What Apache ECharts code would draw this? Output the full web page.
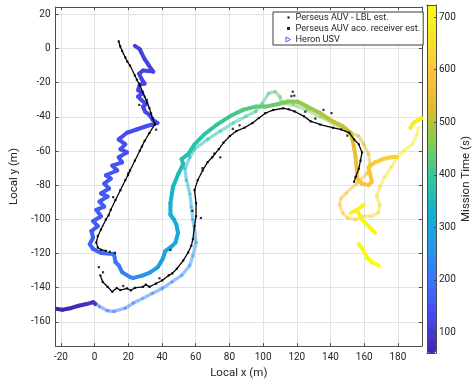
<!DOCTYPE html>
<html><head><meta charset="utf-8">
<script src="https://cdn.jsdelivr.net/npm/echarts@6/dist/echarts.min.js"></script>
<style>html,body{margin:0;padding:0;background:#fff}#c{width:474px;height:384px}</style>
</head><body><div id="c"></div>
<script>
// ---- tick labels ----
const xTicks = [-20, 0, 20, 40, 60, 80, 100, 120, 140, 160, 180];
const yTicks = [-160, -140, -120, -100, -80, -60, -40, -20, 0, 20];
const timeTicks = [100, 200, 300, 400, 500, 600, 700];
const timeMin = 61, timeMax = 723;

// ---- Perseus AUV - LBL est. (x, y) ----
const lblTrack1 = [[14.3,4.2],[15.2,1.2],[16.3,-1.4],[18.2,-5.2],[19.4,-7.6],[21,-10],[23.9,-15.8],[25.1,-18.3],[26.8,-21.5],[28.4,-25.2],[29.7,-28.2],[31.2,-31.6],[32.5,-34.9],[34.4,-40.7],[35.8,-44.2],[32.5,-49.5],[29.7,-54.1],[28.1,-57.3],[26.8,-59.9],[23.9,-65.6],[21,-71.4],[19.8,-74.1],[18.2,-77.1],[15.3,-82.9],[12.4,-88.6],[9.6,-94.4],[8.3,-97.6],[6.7,-100.1],[3.8,-105.9],[1.9,-109.8],[1,-113.6],[1.9,-116.5],[3.8,-117.8],[6.7,-118.4]];
const lblTrack2 = [[3.4,-132.8],[4.8,-136.6],[7.7,-139.5],[10.5,-142.4],[13.1,-140.2],[15.3,-141.4],[19.2,-140.4],[21.5,-141.6],[23.9,-140.1],[28.7,-139.5],[30.4,-138.2],[32.5,-139.5],[36.4,-137.6],[40.2,-135.7],[44,-132.8],[46.1,-131.6],[48.8,-128.9],[52.6,-124.1],[55.5,-119.4],[57.4,-115.5],[58.3,-111.7],[59.3,-104],[60.2,-98.2],[60.2,-90.6],[59.3,-82.9],[61.2,-77.1],[64.1,-71.4],[67,-66.6],[69.8,-63.7],[73.7,-58.9],[76.5,-55.1],[80.3,-51.2],[84.2,-48.3],[88.9,-46.4],[93.7,-43.6],[97.5,-40.7],[101.4,-37.8],[106,-36],[112,-35],[115.2,-35.6],[118.6,-36.8],[124.3,-39.7],[128.2,-42.6],[133.9,-44.5],[141.5,-46.4],[146.3,-47.4],[151.1,-49.3],[154,-53.2],[156.8,-56.1],[158.7,-60.8],[157.8,-65.6],[156.8,-70.4],[154.9,-75.2],[154,-78]];
const lblStray = [[117.6,-25.3],[118.5,-27.6],[116.8,-27.9],[135.8,-35.9],[140.6,-37.8],[9,-119],[12,-119.6],[63.1,-99.2],[74.6,-63.7],[64,-70],[45,-118],[26.5,-33],[31,-30],[58,-95],[82,-47],[125,-37],[71,-61.5],[86,-45],[38.5,-134.5],[17,-139],[5,-131],[2.5,-128],[36.5,-47.5],[33.5,-38],[11,-87],[20,-73],[150,-51],[131,-41]];

// ---- Perseus AUV aco. receiver est. (x, y, mission time) ----
const rxTrack1 = [[-23,-152.3,62],[-19.1,-152.9,68],[-14.3,-152,75],[-9.5,-150.6,82],[-4.8,-149.6,88],[-0.9,-148.5,94],[0.4,-149.6,97]];
const rxTrack2 = [[23.9,1.5,112],[26.8,-0.4,113],[27.7,-2.3,114],[29.7,-6.2,116],[31.6,-9,117],[33.5,-11.9,118],[34.8,-13.5,119],[28.7,-12.9,121],[26.4,-14.8,122],[27.8,-17.7,123],[29.7,-20.5,124],[26.8,-21.1,125],[25.8,-24.4,126],[28.3,-26.3,127],[25.8,-28.2,128],[27.8,-30.2,129],[30.6,-32.6,130],[28.7,-34,131],[30,-37,132],[32.5,-38.8,133],[34.4,-41.7,134],[37.3,-43.6,135],[30.6,-45.5,137],[24.9,-47.4,139],[19.2,-49.3,141],[14.3,-53.2,143],[18.2,-56.1,144],[15.3,-58.9,145],[19.2,-60.8,146],[14.3,-63.7,147],[16.3,-66.6,148],[10.5,-68.5,150],[13.4,-71.4,151],[6.7,-74.2,153],[9.6,-76.2,154],[5.7,-79.1,155],[8.6,-82,156],[3.8,-84.8,158],[7.7,-86.7,159],[2.9,-89.6,160],[5.7,-92.5,161],[1,-94.4,162],[3.8,-98.2,163],[-0.9,-101.1,164],[1.9,-104,165],[-1.9,-106.9,166],[-0.9,-110.7,168],[-2.9,-114.5,170],[-0.9,-117.4,172],[3.8,-119.7,180],[11.5,-120.3,195],[12.4,-125.1,205],[14.3,-127,212],[16.3,-130.9,220],[21,-133.8,235],[23,-134.3,242],[28.7,-132.8,258],[33,-131,270],[37.5,-128,282],[40.5,-123,292],[42,-118.5,298],[45,-116.5,303],[48,-113.6,308],[49.5,-108,313],[48.5,-103,318],[47,-100,322],[45,-97.3,326],[45,-90.6,334],[46.5,-81,348],[49.7,-73.3,360],[52.6,-67.6,368],[51.6,-64.7,372],[55.5,-61.8,378],[59.3,-56.1,385],[65.1,-50.3,393],[72.7,-44.5,402],[80.3,-39.7,412],[88,-35.9,422],[95.6,-34,432],[101.4,-34,440],[109,-32.5,452],[114.7,-31,462],[120.5,-31.1,472],[126.2,-34,482],[133.9,-37.8,493],[139.6,-41.7,503],[147.3,-45.5,515],[152,-49.3,525],[153,-53.2,535],[154,-58,548],[154.9,-63.7,560],[155.5,-69.5,572],[155.9,-76.2,585],[158.7,-79.1,592],[162.6,-80,598],[164.5,-78.1,602],[163.5,-73.3,606],[162.6,-69.5,610],[166.4,-66.6,614],[171.2,-64.7,618],[176,-63.7,622],[179.4,-63.3,626]];
const rxTrack3 = [[187.4,-46.4,688],[189.3,-43.6,690],[192.2,-41.7,692],[194.1,-40.7,694]];
const rxTrack4 = [[152,-96.3,702],[155.9,-94.4,703],[159.7,-91.5,704]];
const rxTrack5 = [[155.9,-95,705],[158.7,-100.1,707],[162.6,-104,709],[166.4,-107.9,711]];
const rxTrack6 = [[156.8,-114.5,713],[159.7,-118.4,715],[161.6,-122.2,717],[164.5,-125.1,719],[168.7,-127,721]];

// ---- Heron USV (x, y, mission time) ----
const heronTrack = [[0,-148.5,190],[2.9,-151,192],[7.7,-153.5,196],[11.5,-153.9,200],[18.2,-152,206],[23,-149,212],[28.7,-146.2,218],[34.4,-143.3,225],[40.2,-140.4,232],[45.9,-136.6,240],[51.6,-132.8,248],[56.5,-127,258],[58.3,-121.3,266],[60.2,-113.6,276],[59.3,-105.9,286],[58.3,-100.1,294],[57.4,-92.5,304],[56.5,-84.8,314],[54.5,-77.1,324],[53.6,-70.4,332],[56.5,-63.7,342],[59.3,-58.9,350],[67,-53.2,362],[74.6,-48.3,374],[82.3,-43.6,386],[89.9,-39.7,398],[95.6,-36.8,406],[99.5,-32.1,414],[103.3,-26.3,422],[107.1,-25.3,428],[110,-28.2,434],[111,-32.1,440],[118,-33,450],[126,-36,462],[134,-40,474],[142,-44,488],[151,-49.3,505],[156.8,-51.2,515],[159.7,-56.1,525],[162.6,-61.8,535],[163.5,-67.6,545],[161.6,-73.3,555],[155.5,-79,570],[149.2,-84.8,585],[146.3,-87.7,592],[145.4,-91.5,600],[147.3,-96.3,608],[150.1,-99.2,615],[154.9,-100.1,622],[159.7,-98.2,630],[164.5,-98.2,637],[168.3,-96.3,643],[169.3,-91.5,650],[167.4,-86.7,656],[169.3,-81,662],[172.1,-75.2,668],[176,-69.5,674],[179.8,-63.7,680],[183.6,-59.9,685],[188.4,-56.1,690],[191.3,-50.3,695],[192.2,-46.4,700]];

const parula = ['#3e26a8','#4746eb','#3e6ffe','#2797eb','#11b1d0','#31c59f','#80cb59','#dcbd29','#fcc13a','#f5e32a','#f9fb15'];

function segments(tracks) {
  const out = [];
  tracks.forEach(function (tr) {
    for (let i = 0; i < tr.length - 1; i++) {
      const a = tr[i], b = tr[i + 1];
      out.push([a[0], a[1], a.length > 2 ? a[2] : 0, b[0], b[1]]);
    }
  });
  return out;
}

function segItem(width, opacity, dash, fixedColor) {
  return function (params, api) {
    const p1 = api.coord([api.value(0), api.value(1)]);
    const p2 = api.coord([api.value(3), api.value(4)]);
    return {
      type: 'line',
      shape: {x1: p1[0], y1: p1[1], x2: p2[0], y2: p2[1]},
      style: {stroke: fixedColor || api.visual('color'), fill: null, lineWidth: width, lineCap: 'round', opacity: opacity, lineDash: dash}
    };
  };
}

const FONT = 'Roboto, "Liberation Sans", sans-serif';
const TXT = '#262626';
const AX = '#4d4d4d';

const chart = echarts.init(document.getElementById('c'), null, {renderer: 'canvas'});
chart.setOption({
  animation: false,
  backgroundColor: '#fff',
  textStyle: {fontFamily: FONT},
  grid: [
    {left: 43, top: 7, width: 379, height: 345},
    {left: 427, top: 5, width: 9, height: 348}
  ],
  xAxis: [
    {type: 'value', gridIndex: 0, min: -23.2, max: 194.3,
     axisLine: {show: true, onZero: false, lineStyle: {color: AX, width: 1}},
     axisTick: {show: true, inside: true, length: 3, customValues: xTicks, lineStyle: {color: AX}},
     axisLabel: {customValues: xTicks, fontSize: 10, color: TXT, margin: 6},
     splitLine: {show: true, lineStyle: {color: '#e2e2e2', width: 1}},
     name: 'Local x (m)', nameLocation: 'middle', nameGap: 19, nameTextStyle: {fontSize: 11.5, color: TXT}},
    {type: 'value', gridIndex: 0, position: 'top', min: -23.2, max: 194.3,
     axisLine: {show: true, onZero: false, lineStyle: {color: AX, width: 1}},
     axisTick: {show: true, inside: true, length: 3, customValues: xTicks, lineStyle: {color: AX}},
     axisLabel: {show: false}, splitLine: {show: false}},
    {type: 'value', gridIndex: 1, min: 0, max: 1, z: 10,
     axisLine: {show: true, onZero: false, lineStyle: {color: AX, width: 1}},
     axisTick: {show: false}, axisLabel: {show: false}, splitLine: {show: false}},
    {type: 'value', gridIndex: 1, position: 'top', min: 0, max: 1, z: 10,
     axisLine: {show: true, onZero: false, lineStyle: {color: AX, width: 1}},
     axisTick: {show: false}, axisLabel: {show: false}, splitLine: {show: false}}
  ],
  yAxis: [
    {type: 'value', gridIndex: 0, min: -174.2, max: 24.3,
     axisLine: {show: true, onZero: false, lineStyle: {color: AX, width: 1}},
     axisTick: {show: true, inside: true, length: 3, customValues: yTicks, lineStyle: {color: AX}},
     axisLabel: {customValues: yTicks, fontSize: 10, color: TXT, margin: 5},
     splitLine: {show: true, lineStyle: {color: '#e2e2e2', width: 1}},
     name: 'Local y (m)', nameLocation: 'middle', nameGap: 25, nameTextStyle: {fontSize: 11.5, color: TXT}},
    {type: 'value', gridIndex: 0, position: 'right', min: -174.2, max: 24.3,
     axisLine: {show: true, onZero: false, lineStyle: {color: AX, width: 1}},
     axisTick: {show: true, inside: true, length: 3, customValues: yTicks, lineStyle: {color: AX}},
     axisLabel: {show: false}, splitLine: {show: false}},
    {type: 'value', gridIndex: 1, position: 'right', min: timeMin, max: timeMax, z: 10,
     axisLine: {show: true, onZero: false, lineStyle: {color: AX, width: 1}},
     axisTick: {show: true, inside: true, length: 2, customValues: timeTicks, lineStyle: {color: AX}},
     axisLabel: {customValues: timeTicks, fontSize: 10, color: TXT, margin: 3},
     splitLine: {show: false},
     name: 'Mission Time (s)', nameLocation: 'middle', nameGap: 24, nameTextStyle: {fontSize: 11.5, color: TXT}},
    {type: 'value', gridIndex: 1, position: 'left', min: timeMin, max: timeMax, z: 10,
     axisLine: {show: true, onZero: false, lineStyle: {color: AX, width: 1}},
     axisTick: {show: false}, axisLabel: {show: false}, splitLine: {show: false}}
  ],
  visualMap: {
    type: 'continuous', min: timeMin, max: timeMax, dimension: 2, seriesIndex: [1, 2],
    inRange: {color: parula}, left: 427, top: 5, itemWidth: 9, itemHeight: 348,
    padding: 0, calculable: false, hoverLink: false, z: 3
  },
  legend: {
    orient: 'vertical', left: 273, top: 12, padding: [0, 3, 0, 9], itemGap: 0,
    itemWidth: 8, itemHeight: 10, backgroundColor: '#fff', borderColor: '#3a3a3a', borderWidth: 1,
    textStyle: {fontSize: 9.2, color: TXT, lineHeight: 11}, selectedMode: false,
    data: [
      {name: 'Perseus AUV - LBL est.', icon: 'path://M0,0M8,10M5,4h2v2h-2z', itemStyle: {color: '#000'}},
      {name: 'Perseus AUV aco. receiver est.', icon: 'path://M0,0M8,10M4.5,3.5h3v3h-3z', itemStyle: {color: '#211d6e'}},
      {name: 'Heron USV', icon: 'path://M0,0M8,10M3.5,2.5L8,5L3.5,7.5Z', itemStyle: {color: '#fff', borderColor: '#6b5bd2', borderWidth: 1}}
    ]
  },
  series: [
    {type: 'custom', name: 'Perseus AUV - LBL est.', xAxisIndex: 0, yAxisIndex: 0, z: 4, clip: true,
     data: segments([lblTrack1, lblTrack2]), encode: {x: [0, 3], y: [1, 4]},
     renderItem: segItem(1.3, 1, [2.2, 0.8], '#000')},
    {type: 'custom', name: 'Perseus AUV aco. receiver est.', xAxisIndex: 0, yAxisIndex: 0, z: 3, clip: true,
     data: segments([rxTrack1, rxTrack2, rxTrack3, rxTrack4, rxTrack5, rxTrack6]), encode: {x: [0, 3], y: [1, 4]},
     renderItem: segItem(4, 1, null, null)},
    {type: 'custom', name: 'Heron USV', xAxisIndex: 0, yAxisIndex: 0, z: 2, clip: true,
     data: segments([heronTrack]), encode: {x: [0, 3], y: [1, 4]},
     renderItem: segItem(3.4, 0.5, [1.6, 1.1], null)},
    {type: 'scatter', name: 'Perseus AUV - LBL est.', xAxisIndex: 0, yAxisIndex: 0, z: 5,
     data: lblStray.concat(lblTrack1, lblTrack2), symbol: 'rect', symbolSize: 2.2, itemStyle: {color: '#000'}}
  ]
});
</script>
</body></html>
